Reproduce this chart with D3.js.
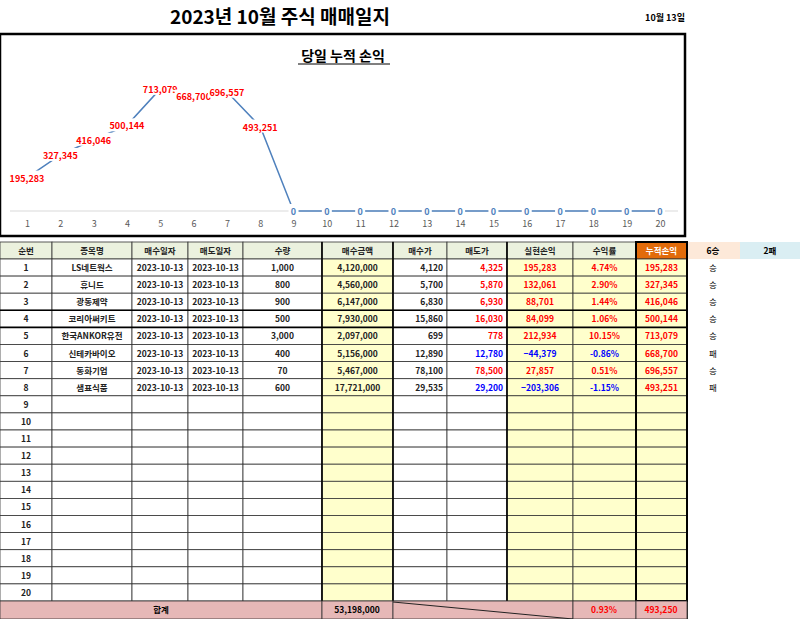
<!DOCTYPE html>
<html><head><meta charset="utf-8">
<script src="https://cdn.jsdelivr.net/npm/d3@7"></script>
<style>body{margin:0;background:#fff}svg{font-family:"Noto Sans CJK KR",sans-serif}</style>
</head><body><svg id="c" width="800" height="619"></svg>
<script>
// chart data
const days = d3.range(1, 21);
const cumPnl = [195283, 327345, 416046, 500144, 713079, 668700, 696557, 493251, 0, 0, 0, 0, 0, 0, 0, 0, 0, 0, 0, 0];

// table data
const names = ["LS네트웍스", "휴니드", "광동제약", "코리아써키트", "한국ANKOR유전", "신테카바이오", "동화기업", "샘표식품"];
const buyDates = ["2023-10-13", "2023-10-13", "2023-10-13", "2023-10-13", "2023-10-13", "2023-10-13", "2023-10-13", "2023-10-13"];
const sellDates = buyDates;
const qty = [1000, 800, 900, 500, 3000, 400, 70, 600];
const buyAmt = [4120000, 4560000, 6147000, 7930000, 2097000, 5156000, 5467000, 17721000];
const buyPrice = [4120, 5700, 6830, 15860, 699, 12890, 78100, 29535];
const sellPrice = [4325, 5870, 6930, 16030, 778, 12780, 78500, 29200];
const realized = [195283, 132061, 88701, 84099, 212934, -44379, 27857, -203306];
const rate = [4.74, 2.90, 1.44, 1.06, 10.15, -0.86, 0.51, -1.15];
const winLoss = ["승", "승", "승", "승", "승", "패", "승", "패"];
const headers = ["순번", "종목명", "매수일자", "매도일자", "수량", "매수금액", "매수가", "매도가", "실현손익", "수익률", "누적손익"];

const svg = d3.select("#c");
const fmt = d3.format(",");
const RED = "#ff0000", BLUE = "#0000ff";

svg.append("text").attr("x", 280).attr("y", 24).attr("text-anchor", "middle")
  .attr("font-size", 19).attr("font-weight", "bold").text("2023년 10월 주식 매매일지");
svg.append("text").attr("x", 665).attr("y", 21).attr("text-anchor", "middle")
  .attr("font-size", 9).attr("font-weight", "bold").text("10월 13일");

// chart box
svg.append("rect").attr("x", 0).attr("y", 34).attr("width", 685).attr("height", 202)
  .attr("fill", "#fff").attr("stroke", "#000").attr("stroke-width", 2.5);
svg.append("text").attr("x", 343).attr("y", 61).attr("text-anchor", "middle")
  .attr("font-size", 14).attr("font-weight", "bold").text("당일 누적 손익");
svg.append("line").attr("x1", 298).attr("x2", 390).attr("y1", 64).attr("y2", 64).attr("stroke", "#000");

const x = d3.scalePoint().domain(days).range([27, 660]);
const y = d3.scaleLinear().domain([0, 800000]).range([211, 74]);
svg.append("line").attr("x1", 10).attr("x2", 678).attr("y1", y(0)).attr("y2", y(0)).attr("stroke", "#d9d9d9");
const ax = svg.append("g").attr("transform", `translate(0,${y(0)})`)
  .call(d3.axisBottom(x).tickSize(0).tickPadding(10));
ax.select(".domain").remove();
ax.selectAll("text").attr("fill", "#595959").attr("font-size", 9).attr("font-family", "Noto Sans CJK KR");

svg.append("path").datum(cumPnl)
  .attr("d", d3.line().x((d, i) => x(days[i])).y(d => y(d)))
  .attr("fill", "none").attr("stroke", "#4f81bd").attr("stroke-width", 1.5);
const lbl = svg.append("g").selectAll("g").data(cumPnl).join("g")
  .attr("transform", (d, i) => `translate(${x(days[i])},${y(d)})`);
lbl.append("rect").attr("x", d => d ? -19 : -5).attr("y", -7).attr("width", d => d ? 38 : 10).attr("height", 13).attr("fill", "#fff");
lbl.append("text").attr("text-anchor", "middle").attr("dy", 4).attr("font-size", 9).attr("font-weight", "bold")
  .attr("fill", d => d ? RED : "#4f81bd").text(d => fmt(d));

// table
const colX = [0, 52, 132, 188, 243, 322, 393, 447, 507, 573, 636, 687];
const tTop = 242, hH = 17, rH = 17.1, nRows = 20;
const rowY = i => tTop + hH + i * rH;
const yellowCols = new Set([5, 8, 9, 10]);
const tb = svg.append("g").attr("font-size", 8.5).attr("font-weight", "bold");

headers.forEach((h, c) => {
  tb.append("rect").attr("x", colX[c]).attr("y", tTop).attr("width", colX[c + 1] - colX[c]).attr("height", hH)
    .attr("fill", c === 10 ? "#e26b0a" : "#ebf1de").attr("stroke", "#333").attr("stroke-width", 0.8);
  tb.append("text").attr("x", (colX[c] + colX[c + 1]) / 2).attr("y", tTop + 12).attr("text-anchor", "middle")
    .attr("fill", c === 10 ? "#fff" : "#222").text(h);
});
tb.append("rect").attr("x", 687).attr("y", tTop).attr("width", 53).attr("height", hH).attr("fill", "#fde9d9");
tb.append("rect").attr("x", 740).attr("y", tTop).attr("width", 60).attr("height", hH).attr("fill", "#daeef3");
tb.append("text").attr("x", 713).attr("y", tTop + 12).attr("text-anchor", "middle").text(winLoss.filter(d => d === "승").length + "승");
tb.append("text").attr("x", 770).attr("y", tTop + 12).attr("text-anchor", "middle").text(winLoss.filter(d => d === "패").length + "패");

for (let r = 0; r < nRows; r++) {
  for (let c = 0; c < 11; c++) {
    tb.append("rect").attr("x", colX[c]).attr("y", rowY(r)).attr("width", colX[c + 1] - colX[c]).attr("height", rH)
      .attr("fill", yellowCols.has(c) ? "#ffffcc" : "#fff").attr("stroke", "#333").attr("stroke-width", 0.8);
  }
}
const cell = (r, c, txt, color, anchor) => {
  const xx = anchor === "end" ? colX[c + 1] - 4 : (colX[c] + colX[c + 1]) / 2;
  tb.append("text").attr("x", xx).attr("y", rowY(r) + 12).attr("text-anchor", anchor || "middle")
    .attr("fill", color || "#222").text(txt);
};
for (let r = 0; r < nRows; r++) cell(r, 0, r + 1);
names.forEach((n, i) => {
  const col = realized[i] < 0 ? BLUE : RED;
  cell(i, 1, n);
  cell(i, 2, buyDates[i]);
  cell(i, 3, sellDates[i]);
  cell(i, 4, fmt(qty[i]));
  cell(i, 5, fmt(buyAmt[i]));
  cell(i, 6, fmt(buyPrice[i]), "#222", "end");
  cell(i, 7, fmt(sellPrice[i]), col, "end");
  cell(i, 8, fmt(realized[i]), col);
  cell(i, 9, rate[i].toFixed(2) + "%", col);
  cell(i, 10, fmt(cumPnl[i]), RED);
  tb.append("text").attr("x", 713).attr("y", rowY(i) + 12).attr("text-anchor", "middle").attr("font-weight", "normal").text(winLoss[i]);
});
// thick separators
[322, 393, 507, 636, 687].forEach(xx => tb.append("line").attr("x1", xx).attr("x2", xx).attr("y1", tTop).attr("y2", 619).attr("stroke", "#000").attr("stroke-width", 1.6));
[rowY(3), rowY(4)].forEach(yy => tb.append("line").attr("x1", 0).attr("x2", 687).attr("y1", yy).attr("y2", yy).attr("stroke", "#000").attr("stroke-width", 1.6));
tb.append("rect").attr("x", 636).attr("y", tTop).attr("width", 51).attr("height", rowY(nRows) - tTop)
  .attr("fill", "none").attr("stroke", "#000").attr("stroke-width", 2);

// total row
const ty = rowY(nRows), tH = 18;
const totalAmt = d3.sum(buyAmt), totalPnl = d3.sum(realized);
[[0, 5], [5, 6], [6, 9], [9, 10], [10, 11]].forEach(([a, b]) =>
  tb.append("rect").attr("x", colX[a]).attr("y", ty).attr("width", colX[b] - colX[a]).attr("height", tH)
    .attr("fill", "#e6b8b7").attr("stroke", "#333").attr("stroke-width", 0.8));
tb.append("line").attr("x1", colX[6]).attr("y1", ty + 1).attr("x2", colX[9]).attr("y2", ty + tH).attr("stroke", "#222");
tb.append("text").attr("x", 161).attr("y", ty + 12).attr("text-anchor", "middle").text("합계");
tb.append("text").attr("x", 357).attr("y", ty + 12).attr("text-anchor", "middle").text(fmt(totalAmt));
tb.append("text").attr("x", 604).attr("y", ty + 12).attr("text-anchor", "middle").attr("fill", RED)
  .text((totalPnl / totalAmt * 100).toFixed(2) + "%");
tb.append("text").attr("x", 661).attr("y", ty + 12).attr("text-anchor", "middle").attr("fill", RED).text(fmt(totalPnl));
</script></body></html>
